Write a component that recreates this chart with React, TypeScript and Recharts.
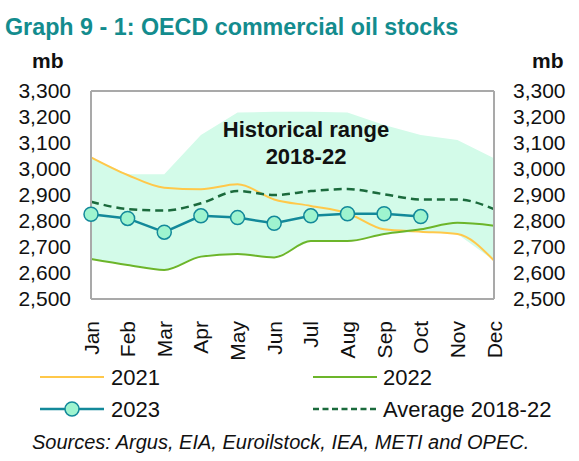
import { Area, ComposedChart, Line, ReferenceLine, XAxis, YAxis } from 'recharts';

const months = ['Jan', 'Feb', 'Mar', 'Apr', 'May', 'Jun', 'Jul', 'Aug', 'Sep', 'Oct', 'Nov', 'Dec'];
const y2021 = [3045, 2977, 2928, 2922, 2941, 2883, 2858, 2830, 2768, 2759, 2750, 2648];
const y2022 = [2654, 2631, 2612, 2663, 2673, 2660, 2723, 2723, 2750, 2768, 2793, 2782];
const y2023 = [2826, 2810, 2757, 2820, 2813, 2791, 2820, 2828, 2828, 2817];
const avg = [2874, 2846, 2840, 2868, 2915, 2900, 2915, 2923, 2903, 2883, 2883, 2846];
const rangeLow = [2654, 2631, 2612, 2663, 2673, 2660, 2723, 2723, 2750, 2759, 2750, 2648];
const rangeHigh = [3045, 2980, 2980, 3131, 3217, 3220, 3220, 3217, 3169, 3131, 3112, 3041];
const yTicks = [2500, 2600, 2700, 2800, 2900, 3000, 3100, 3200, 3300];

const data = months.map((m, i) => ({
  month: m,
  y2021: y2021[i],
  y2022: y2022[i],
  y2023: y2023[i] ?? null,
  avg: avg[i],
  range: [rangeLow[i], rangeHigh[i]],
}));

const FONT = '"Liberation Sans", Arial, sans-serif';
const TEAL = '#13899a';
const FRAME = '#a9a9a9';
const fmt = (v: number) => v.toLocaleString('en-US');

function MonthTick({ x, y, payload }: any) {
  return (
    <text
      transform={`translate(${x},${y + 14}) rotate(-90)`}
      textAnchor="end"
      dy="0.36em"
      fontSize={21}
      fontFamily={FONT}
      fill="#111"
    >
      {payload.value}
    </text>
  );
}

export default function App() {
  return (
    <div style={{ position: 'absolute', left: 0, top: 0, width: 579, height: 461, background: '#fff', fontFamily: FONT }}>
      <ComposedChart width={579} height={360} data={data} margin={{ top: 91, right: 0, bottom: 0, left: 0 }}>
        <XAxis
          dataKey="month"
          scale="point"
          padding={{ left: 0, right: 0 }}
          height={61}
          tickLine={false}
          axisLine={{ stroke: FRAME, strokeWidth: 2 }}
          tick={<MonthTick />}
          interval={0}
        />
        <YAxis
          yAxisId="left"
          width={91}
          domain={[2500, 3300]}
          ticks={yTicks}
          tickFormatter={fmt}
          tickLine={false}
          tickSize={0}
          tickMargin={20}
          axisLine={{ stroke: FRAME, strokeWidth: 2 }}
          tick={{ fontSize: 21, fill: '#111', fontFamily: FONT }}
          interval={0}
        />
        <YAxis
          yAxisId="right"
          orientation="right"
          width={85}
          domain={[2500, 3300]}
          ticks={yTicks}
          tickFormatter={fmt}
          tickLine={false}
          tickSize={0}
          tickMargin={19}
          axisLine={{ stroke: FRAME, strokeWidth: 2 }}
          tick={{ fontSize: 21, fill: '#111', fontFamily: FONT }}
          interval={0}
          allowDataOverflow
        />
        <Area yAxisId="left" dataKey="range" type="linear" fill="#d3fbe9" fillOpacity={1} stroke="none" isAnimationActive={false} />
        <Line yAxisId="left" dataKey="y2021" type="monotone" stroke="#ffc84a" strokeWidth={2} dot={false} isAnimationActive={false} />
        <Line yAxisId="left" dataKey="y2022" type="monotone" stroke="#6cb52a" strokeWidth={2} dot={false} isAnimationActive={false} />
        <Line yAxisId="left" dataKey="avg" type="monotone" stroke="#1b6a3c" strokeWidth={2.5} strokeDasharray="8 5" dot={false} isAnimationActive={false} />
        <Line
          yAxisId="left"
          dataKey="y2023"
          type="linear"
          stroke={TEAL}
          strokeWidth={2.5}
          dot={{ r: 7, fill: '#9ef4cf', stroke: TEAL, strokeWidth: 1.5 }}
          isAnimationActive={false}
        />
        <ReferenceLine yAxisId="left" y={3300} stroke={FRAME} strokeWidth={2} />
      </ComposedChart>
      <svg width={579} height={461} style={{ position: 'absolute', left: 0, top: 0, pointerEvents: 'none' }} fontFamily={FONT}>
        <text x={5} y={35} fontSize={23.3} fontWeight="bold" fill="#138c8e">
          Graph 9 - 1: OECD commercial oil stocks
        </text>
        <text x={32} y={68} fontSize={21} fontWeight="bold" fill="#111">mb</text>
        <text x={532} y={68} fontSize={21} fontWeight="bold" fill="#111">mb</text>
        <text x={306} y={137} fontSize={22} fontWeight="bold" fill="#111" textAnchor="middle">Historical range</text>
        <text x={306} y={164} fontSize={22} fontWeight="bold" fill="#111" textAnchor="middle">2018-22</text>

        <line x1={40} x2={104} y1={377} y2={377} stroke="#ffc84a" strokeWidth={2} />
        <text x={111} y={377} dy="0.35em" fontSize={22} fill="#111">2021</text>
        <line x1={313} x2={377} y1={377} y2={377} stroke="#6cb52a" strokeWidth={2} />
        <text x={383} y={377} dy="0.35em" fontSize={22} fill="#111">2022</text>
        <line x1={40} x2={104} y1={409} y2={409} stroke={TEAL} strokeWidth={2.5} />
        <circle cx={72} cy={409} r={7} fill="#9ef4cf" stroke={TEAL} strokeWidth={1.5} />
        <text x={111} y={409} dy="0.35em" fontSize={22} fill="#111">2023</text>
        <line x1={313} x2={377} y1={409} y2={409} stroke="#1b6a3c" strokeWidth={2.5} strokeDasharray="6 3.5" />
        <text x={383} y={409} dy="0.35em" fontSize={22} fill="#111">Average 2018-22</text>

        <text x={32} y={442} dy="0.35em" fontSize={20} fontStyle="italic" fill="#111">
          Sources: Argus, EIA, Euroilstock, IEA, METI and OPEC.
        </text>
      </svg>
    </div>
  );
}
